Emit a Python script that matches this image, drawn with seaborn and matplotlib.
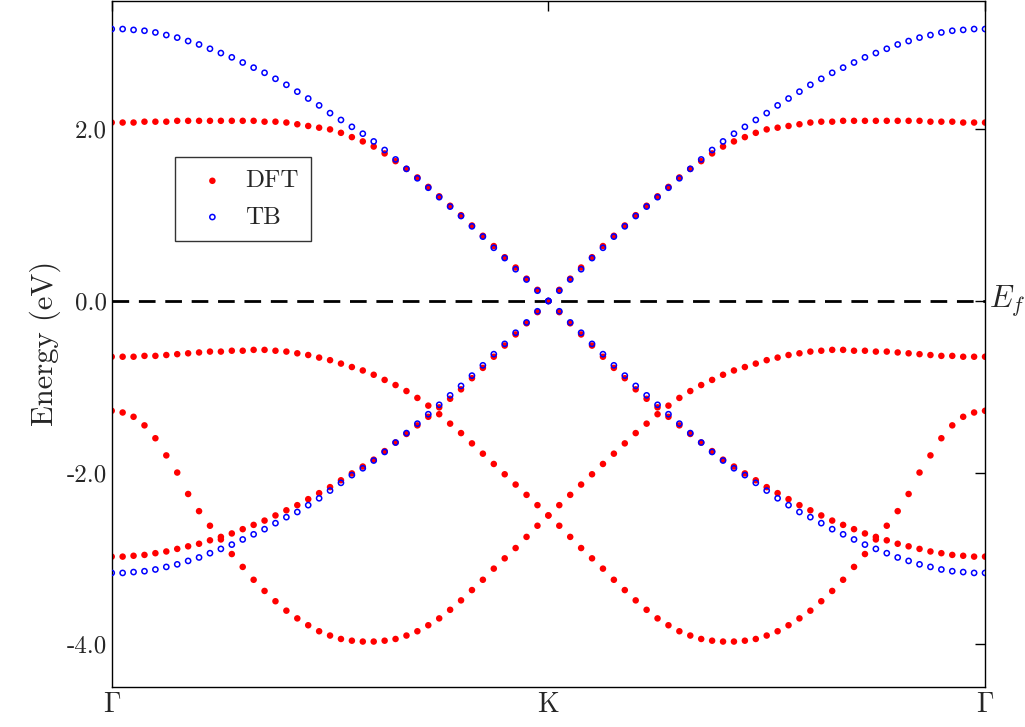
import numpy as np
import pandas as pd
import matplotlib
matplotlib.use("Agg")
import matplotlib.pyplot as plt
import seaborn as sns

# k-path fraction Gamma->K (0..1), then mirrored K->Gamma
k_half = [i / 40 for i in range(41)]

tb_up = [3.17,3.17,3.16,3.15,3.13,3.10,3.07,3.03,2.99,2.94,2.89,2.84,2.78,
         2.72,2.66,2.59,2.52,2.44,2.36,2.28,2.19,2.11,2.03,1.95,1.86,1.76,1.65,1.54,1.43,
         1.32,1.21,1.10,0.99,0.87,0.75,0.62,0.50,0.37,0.25,0.12,0.0]
tb_dn = [-3.17,-3.17,-3.16,-3.15,-3.13,-3.10,-3.07,-3.03,-2.99,-2.94,-2.89,-2.84,-2.78,
         -2.72,-2.66,-2.59,-2.52,-2.46,-2.38,-2.30,-2.21,-2.12,-2.03,-1.95,-1.86,-1.76,-1.65,-1.54,-1.43,
         -1.32,-1.21,-1.10,-0.99,-0.87,-0.75,-0.62,-0.50,-0.37,-0.25,-0.12,0.0]
dft1 = [2.08,2.08,2.08,2.09,2.09,2.09,2.10,2.10,2.10,2.10,2.10,2.10,2.10,
        2.10,2.09,2.09,2.08,2.06,2.04,2.02,2.00,1.96,1.91,1.86,1.80,1.72,1.63,1.54,1.44,
        1.33,1.22,1.11,1.00,0.88,0.76,0.64,0.51,0.39,0.26,0.13,0.0]
dft2 = [-0.65,-0.65,-0.65,-0.64,-0.64,-0.63,-0.62,-0.61,-0.60,-0.59,-0.59,-0.58,-0.58,
        -0.57,-0.57,-0.58,-0.59,-0.61,-0.63,-0.66,-0.69,-0.73,-0.77,-0.81,-0.86,-0.92,-0.98,-1.05,-1.13,
        -1.22,-1.32,-1.43,-1.54,-1.66,-1.78,-1.90,-2.02,-2.14,-2.26,-2.38,-2.50]
dft3 = [-1.28,-1.30,-1.35,-1.45,-1.60,-1.80,-2.00,-2.25,-2.45,-2.62,-2.78,-2.95,-3.10,
        -3.25,-3.38,-3.50,-3.61,-3.70,-3.78,-3.85,-3.90,-3.94,-3.96,-3.97,-3.97,-3.96,-3.94,-3.90,-3.85,
        -3.78,-3.70,-3.60,-3.49,-3.37,-3.25,-3.12,-3.00,-2.88,-2.75,-2.62,-2.50]
dft4 = [-2.98,-2.98,-2.97,-2.96,-2.94,-2.92,-2.89,-2.86,-2.83,-2.79,-2.75,-2.71,-2.66,
        -2.61,-2.56,-2.50,-2.44,-2.38,-2.31,-2.24,-2.17,-2.09,-2.01,-1.93,-1.85,-1.75,-1.65,-1.55,-1.45,
        -1.35,-1.24,-1.14,-1.03,-0.90,-0.78,-0.65,-0.52,-0.39,-0.26,-0.13,0.0]

tick_pos = [0, 1, 2]
tick_labels = [r"$\Gamma$", "K", r"$\Gamma$"]
ytick_pos = [2.0, 0.0, -2.0, -4.0]
ytick_labels = ["2.0", "0.0", "-2.0", "-4.0"]

def full(vals):
    return vals + vals[::-1][1:]

k_full = k_half + [2 - k for k in k_half[::-1][1:]]

rows = []
for name, bands in [("DFT", [dft1, dft2, dft3, dft4]), ("TB", [tb_up, tb_dn])]:
    for b in bands:
        for k, e in zip(k_full, full(b)):
            rows.append((name, k, e))
df = pd.DataFrame(rows, columns=["src", "k", "E"])

sns.set_theme(style="white")
plt.rcParams["font.family"] = ["cmr10", "DejaVu Serif"]
plt.rcParams["mathtext.fontset"] = "cm"
plt.rcParams["axes.unicode_minus"] = False

fig = plt.figure(figsize=(10.25, 7.27), dpi=100)
ax = fig.add_axes([0.109, 0.055, 0.852, 0.944])

ax.axhline(0, color="black", lw=2, dashes=(6, 3.5), zorder=1)
sns.scatterplot(data=df[df.src == "DFT"], x="k", y="E", ax=ax, color="#ff0000",
                s=22, edgecolor="none", label="DFT", zorder=2)
sns.scatterplot(data=df[df.src == "TB"], x="k", y="E", ax=ax, facecolor="none",
                edgecolor="#0000ff", linewidth=1.1, s=14, label="TB", zorder=3)

ax.set_xlim(0, 2)
ax.set_ylim(-4.5, 3.5)
ax.set_xticks(tick_pos)
ax.set_xticklabels(tick_labels, fontsize=20)
ax.set_yticks(ytick_pos)
ax.set_yticklabels(ytick_labels, fontsize=18)
ax.set_xlabel("")
ax.set_ylabel("Energy (eV)", fontsize=22)
ax.tick_params(direction="in", length=7, width=1, top=True, right=True, color="black")
for s in ax.spines.values():
    s.set_color("black")
    s.set_linewidth(1)
ax.text(1.004, 0.5625, r"$E_f$", transform=ax.transAxes, fontsize=22, va="center", ha="left")

leg = ax.legend(loc="upper left", bbox_to_anchor=(0.058, 0.79), fontsize=18,
                frameon=True, fancybox=False, handletextpad=0.3, borderpad=0.5,
                markerscale=1.0, labelspacing=0.55)
leg.get_frame().set_edgecolor("black")
leg.get_frame().set_linewidth(1)

fig.savefig("out.png", dpi=100)
